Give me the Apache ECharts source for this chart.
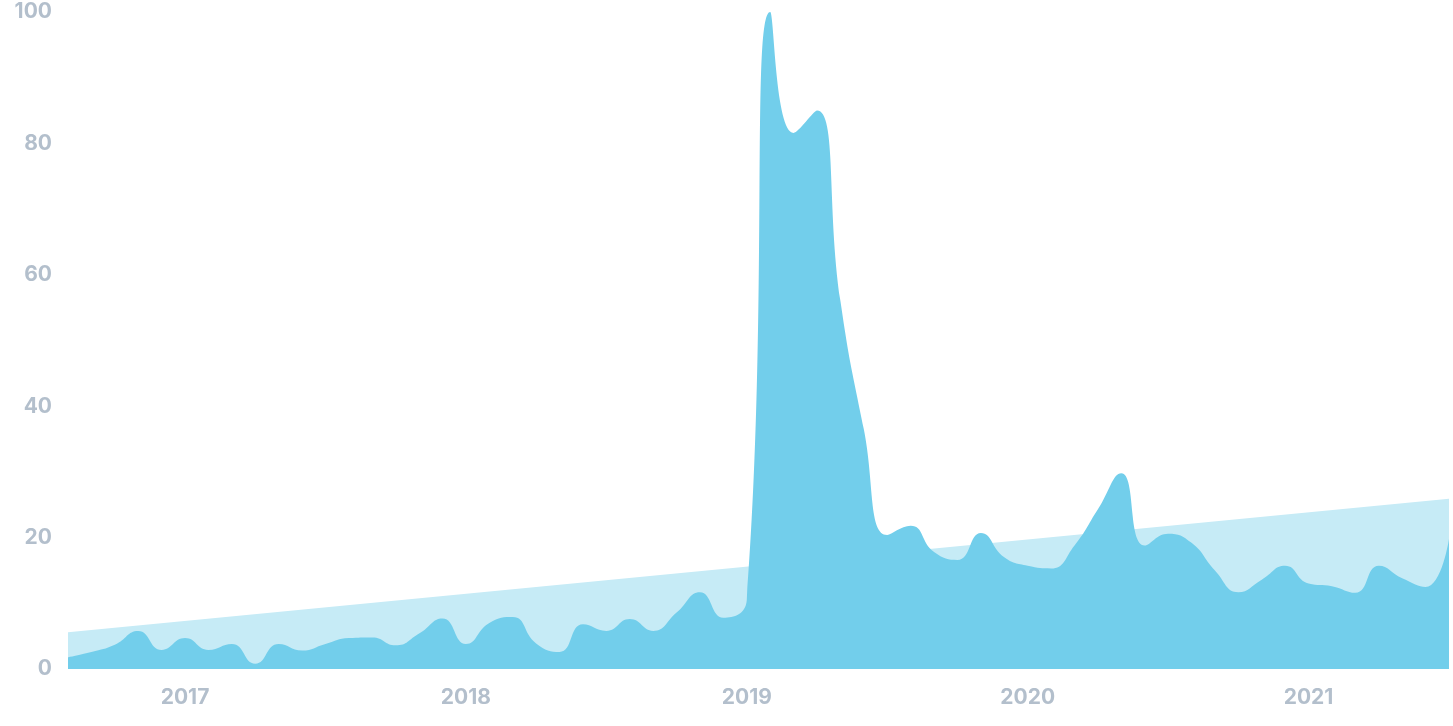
<!DOCTYPE html>
<html>
<head>
<meta charset="utf-8">
<script src="https://cdn.jsdelivr.net/npm/echarts@6/dist/echarts.min.js"></script>
<style>
  html, body { margin: 0; padding: 0; background: #ffffff; }
  #chart { width: 1453px; height: 726px; }
</style>
</head>
<body>
<div id="chart"></div>
<script>
// Monthly categories (Aug 2016 – Jul 2021)
const months = [
  '2016-08','2016-09','2016-10','2016-11','2016-12',
  '2017-01','2017-02','2017-03','2017-04','2017-05','2017-06','2017-07','2017-08','2017-09','2017-10','2017-11','2017-12',
  '2018-01','2018-02','2018-03','2018-04','2018-05','2018-06','2018-07','2018-08','2018-09','2018-10','2018-11','2018-12',
  '2019-01','2019-02','2019-03','2019-04','2019-05','2019-06','2019-07','2019-08','2019-09','2019-10','2019-11','2019-12',
  '2020-01','2020-02','2020-03','2020-04','2020-05','2020-06','2020-07','2020-08','2020-09','2020-10','2020-11','2020-12',
  '2021-01','2021-02','2021-03','2021-04','2021-05','2021-06','2021-07'
];

// Interest values per month
const interest = [
  1.8, 2.6, 3.7, 5.8, 2.9,
  4.7, 2.9, 3.8, 0.8, 3.8, 2.8, 3.8, 4.7, 4.8, 3.6, 5.4, 7.7,
  3.8, 7.0, 7.9, 3.9, 2.6, 6.8, 5.8, 7.6, 5.8, 8.6, 11.7, 7.8,
  10.5, 100, 81.6, 85, 56, 36.5, 20.4, 21.8, 17.8, 16.6, 20.7, 17.0,
  15.7, 15.3, 18.8, 24.3, 29.8, 18.8, 20.6, 19.2, 15.0, 11.7, 13.6, 15.7,
  13.0, 12.6, 11.6, 15.7, 13.8, 12.5, 19.8
];

// Trend line end points
const trendStart = 5.6;
const trendEnd = 25.9;

const yTicks = [0, 20, 40, 60, 80, 100];

const chart = echarts.init(document.getElementById('chart'), null, { renderer: 'canvas' });

const labelStyle = {
  color: '#b3bfcc',
  fontFamily: 'Inter',
  fontWeight: 'bold',
  fontSize: 21
};

chart.setOption({
  animation: false,
  backgroundColor: '#ffffff',
  grid: { left: 68, right: 4, top: 12, bottom: 57, containLabel: false },
  xAxis: {
    type: 'category',
    data: months,
    boundaryGap: false,
    axisLine: { show: false },
    axisTick: { show: false },
    splitLine: { show: false },
    axisLabel: Object.assign({}, labelStyle, {
      margin: 18,
      interval: function (idx, val) { return val.slice(5) === '01'; },
      formatter: function (val) { return val.slice(0, 4); }
    })
  },
  yAxis: {
    type: 'value',
    min: yTicks[0],
    max: yTicks[yTicks.length - 1],
    interval: 20,
    axisLine: { show: false },
    axisTick: { show: false },
    splitLine: { show: false },
    axisLabel: Object.assign({}, labelStyle, { margin: 16 })
  },
  series: [
    {
      name: 'trend',
      type: 'line',
      data: [[months[0], trendStart], [months[months.length - 1], trendEnd]],
      showSymbol: false,
      symbol: 'none',
      lineStyle: { width: 0 },
      areaStyle: { color: '#c6ebf6', opacity: 1 },
      z: 1
    },
    {
      name: 'interest',
      type: 'line',
      data: interest,
      smooth: 0.5,
      showSymbol: false,
      symbol: 'none',
      lineStyle: { width: 0 },
      areaStyle: { color: '#72ceeb', opacity: 1 },
      z: 2
    }
  ]
});
</script>
</body>
</html>
